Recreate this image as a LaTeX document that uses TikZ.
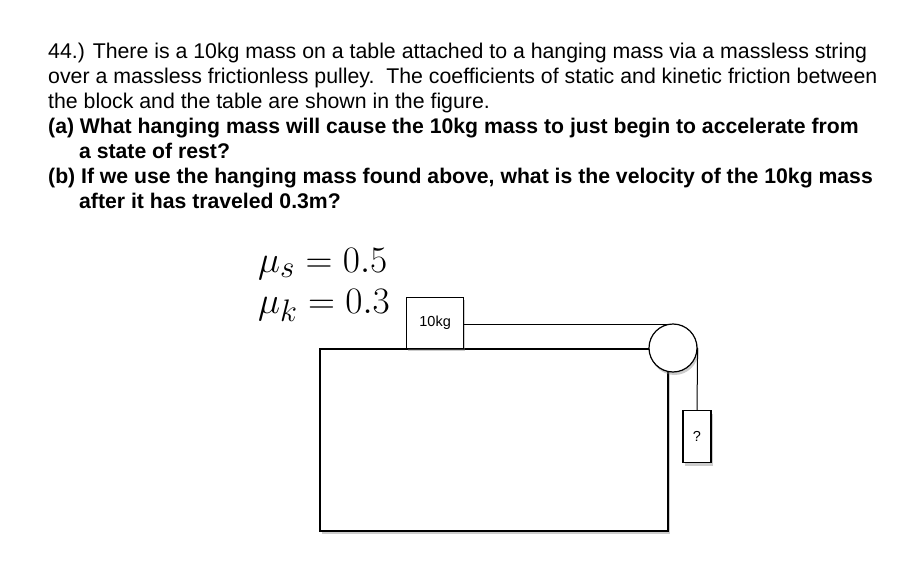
\documentclass[tikz,border=0pt]{standalone}
\usepackage{fontspec}
\setsansfont{Liberation Sans}
\usetikzlibrary{shadows}
\begin{document}
\begin{tikzpicture}[x=1pt,y=-1pt,
  txt/.style={anchor=base west,inner sep=0pt,font=\sffamily\fontsize{21.3}{24}\selectfont},
  btxt/.style={txt,font=\sffamily\bfseries\fontsize{21.2}{24}\selectfont},
  obj/.style={draw,line width=1.2pt,fill=white,drop shadow={shadow xshift=1.5pt,shadow yshift=-3pt,opacity=0.4}},
  lbl/.style={font=\sffamily\fontsize{14.5}{16}\selectfont},
  mth/.style={anchor=base west,inner sep=0pt,font=\fontsize{24.88}{30}\selectfont}]
\useasboundingbox (0,0) rectangle (914,570);
\node[txt] (l1) at (48,58) {44.) There is a 10kg mass on a table attached to a hanging mass via a massless string};
\node[txt] (l2) at (48,83) {over a massless frictionless pulley.\ \ The coefficients of static and kinetic friction between};
\node[txt] (l3) at (48,108) {the block and the table are shown in the figure.};
\node[btxt] (l4) at (48,133) {(a) What hanging mass will cause the 10kg mass to just begin to accelerate from};
\node[btxt] (l5) at (79,158) {a state of rest?};
\node[btxt] (l6) at (48,183) {(b) If we use the hanging mass found above, what is the velocity of the 10kg mass};
\node[btxt] (l7) at (79,208) {after it has traveled 0.3m?};
\node[mth] (mus) at (258,272) {\scalebox{1.5}{$\mu_s=0.5$}};
\node[mth] (muk) at (258,313) {\scalebox{1.5}{$\mu_k=0.3$}};
\path[obj] (320,349) rectangle (668,531);
\node[obj,minimum width=57pt,minimum height=51pt,inner sep=0pt,anchor=south west,lbl] (blk) at (406,349) {10kg};
\coordinate (ptop) at (673,324);
\draw[line width=1pt] (blk.east |- ptop) -- (ptop);
\node[obj,circle,minimum size=48pt,inner sep=0pt] (pul) at (673,348) {};
\node[obj,minimum width=28pt,minimum height=52pt,inner sep=0pt,anchor=north,lbl] (hm) at (697,410) {?};
\draw[line width=1pt] (pul.east) -- (hm.north);
\end{tikzpicture}
\end{document}
